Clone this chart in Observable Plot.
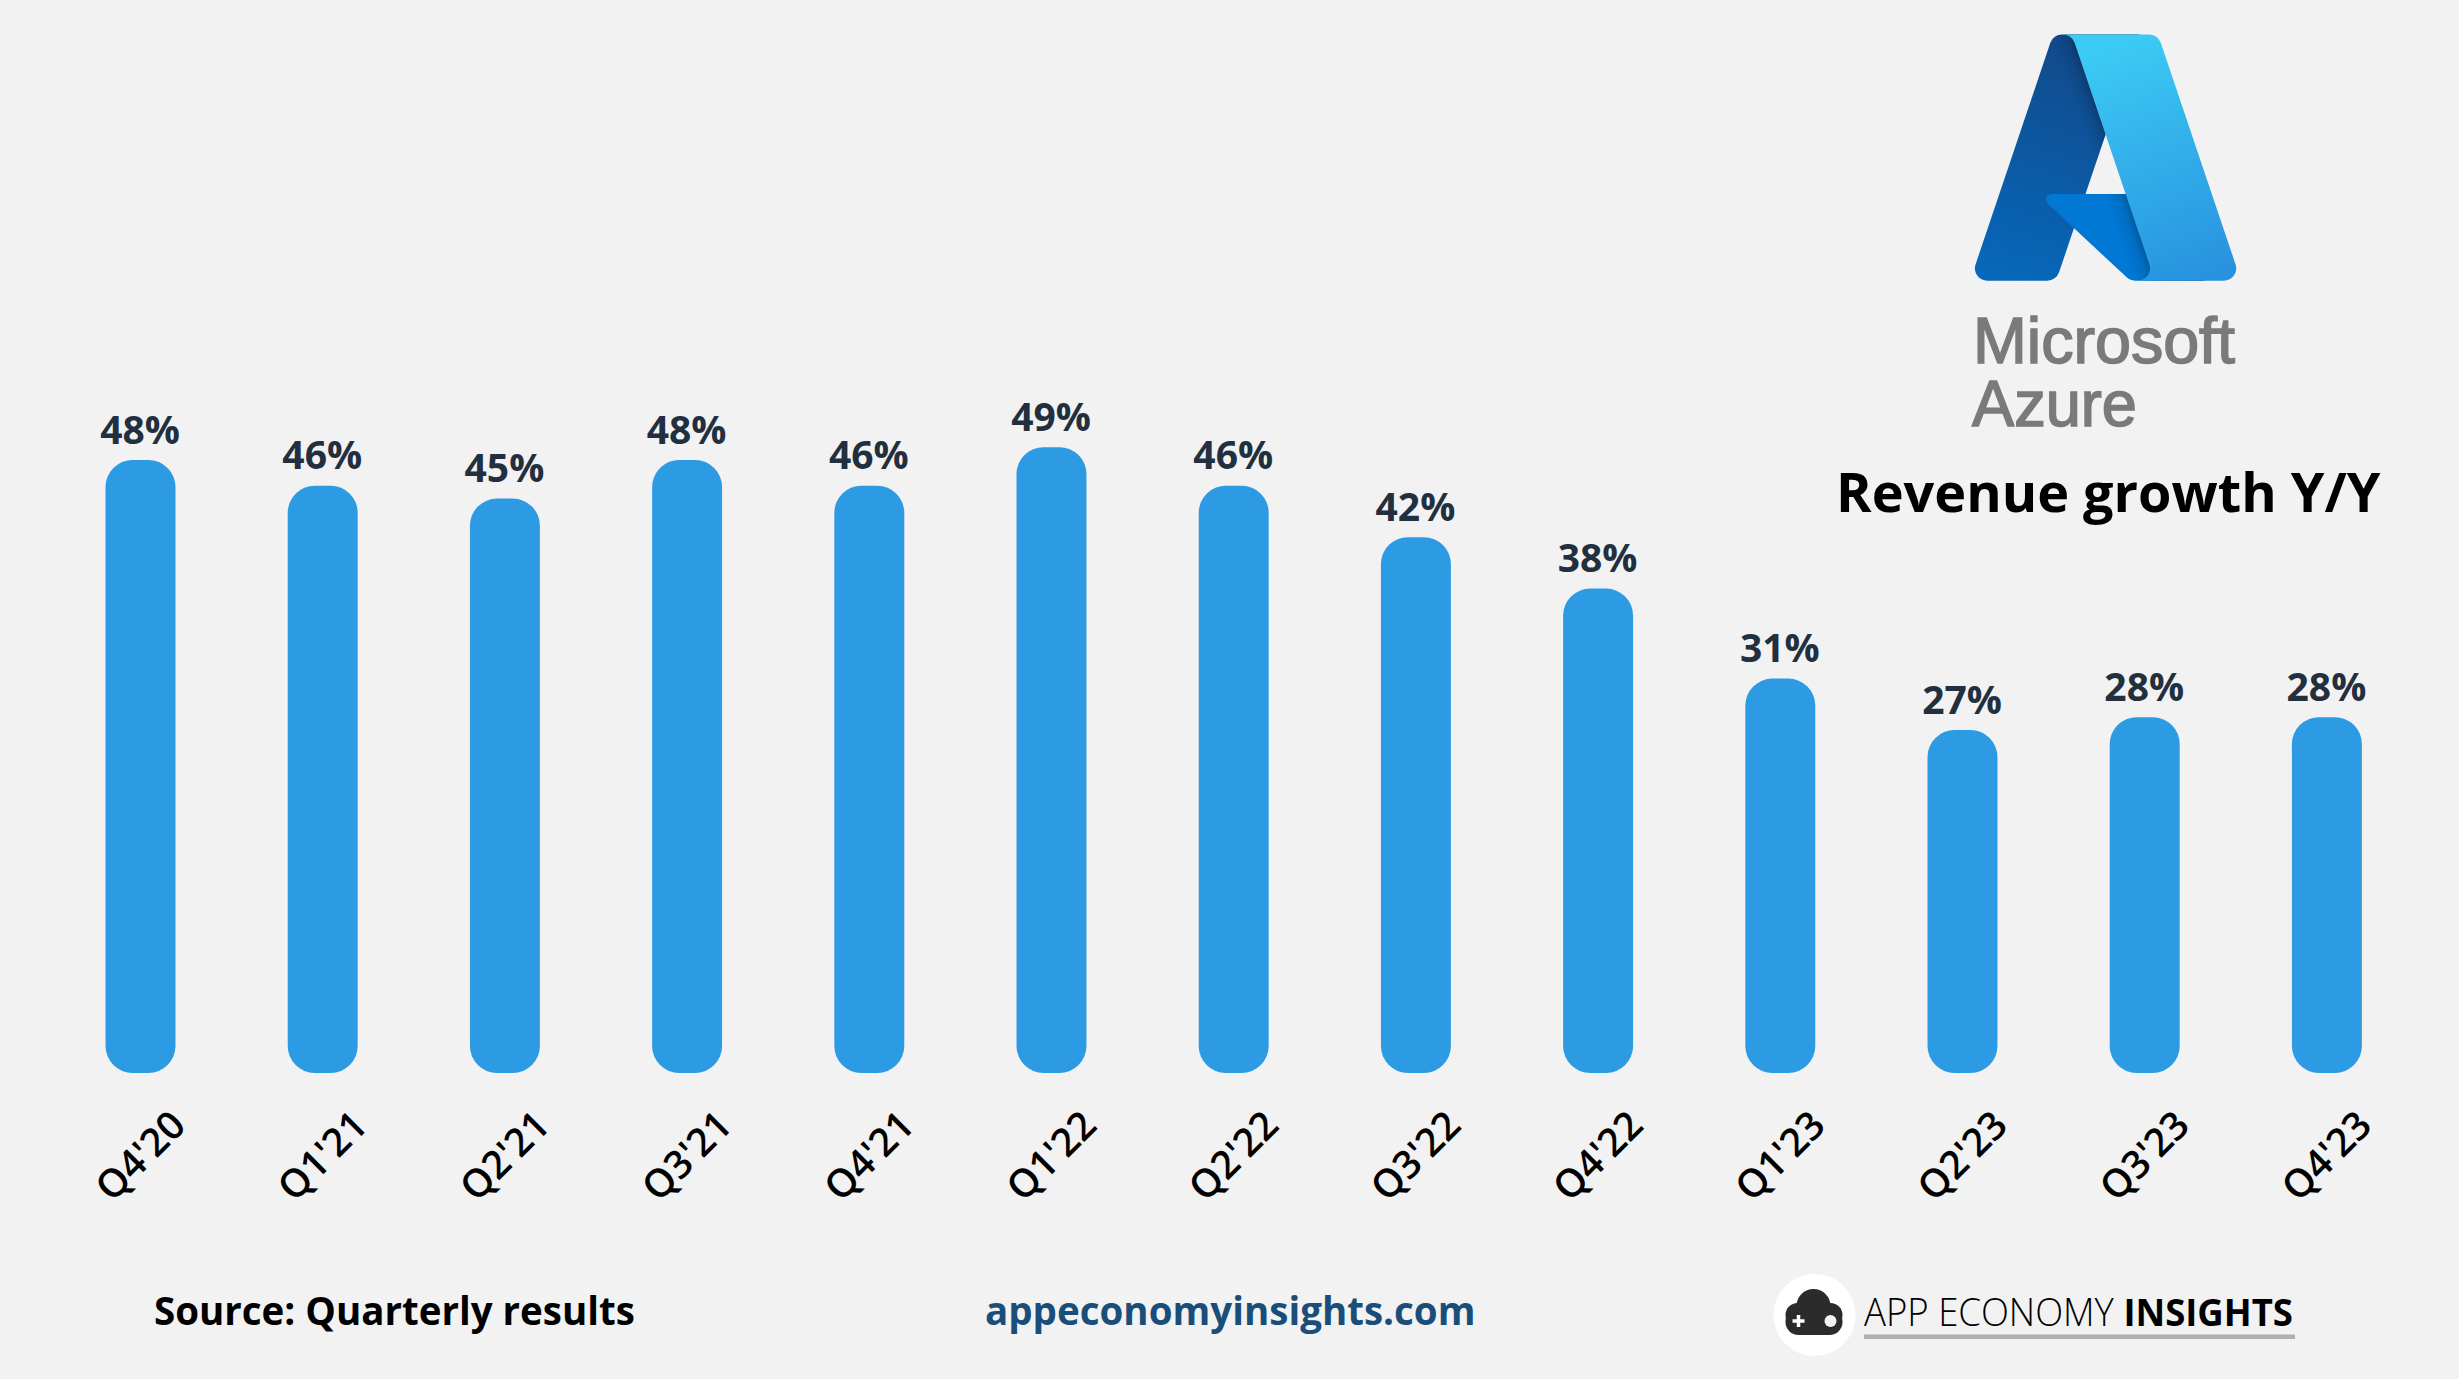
<!DOCTYPE html>
<html>
<head>
<meta charset="utf-8">
<script src="https://cdn.jsdelivr.net/npm/d3@7"></script>
<script src="https://cdn.jsdelivr.net/npm/@observablehq/plot@0.6"></script>
<style>
html,body{margin:0;padding:0;background:#f2f2f2;}
#page{position:relative;width:2459px;height:1379px;overflow:hidden;background:#f2f2f2;font-family:"Open Sans",sans-serif;}
#chart{position:absolute;left:0;top:0;}
#chart svg{background:transparent;display:block;}
#overlay{position:absolute;left:0;top:0;}
</style>
</head>
<body>
<div id="page">
  <div id="chart"></div>
  <svg id="overlay" width="2459" height="1379" viewBox="0 0 2459 1379" font-family="Open Sans, sans-serif">
    <defs>
      <linearGradient id="az1" x1="-1032.172" x2="-1059.213" y1="145.312" y2="65.426" gradientTransform="matrix(1 0 0 -1 1075 158)" gradientUnits="userSpaceOnUse"><stop offset="0" stop-color="#114a8b"/><stop offset="1" stop-color="#0669bc"/></linearGradient>
      <linearGradient id="az2" x1="-1023.725" x2="-1029.98" y1="108.083" y2="105.968" gradientTransform="matrix(1 0 0 -1 1075 158)" gradientUnits="userSpaceOnUse"><stop offset="0" stop-opacity=".3"/><stop offset=".071" stop-opacity=".2"/><stop offset=".321" stop-opacity=".1"/><stop offset=".623" stop-opacity=".05"/><stop offset="1" stop-opacity="0"/></linearGradient>
      <linearGradient id="az3" x1="-1027.165" x2="-997.482" y1="147.642" y2="68.561" gradientTransform="matrix(1 0 0 -1 1075 158)" gradientUnits="userSpaceOnUse"><stop offset="0" stop-color="#3ccbf4"/><stop offset="1" stop-color="#2892df"/></linearGradient>
    </defs>
    <g transform="translate(1963,15) scale(2.97,2.97)">
      <path fill="url(#az1)" d="M33.338 6.544h26.038l-27.03 80.087a4.152 4.152 0 0 1-3.933 2.824H8.149a4.145 4.145 0 0 1-3.928-5.47L29.404 9.368a4.152 4.152 0 0 1 3.934-2.825z"/>
      <path fill="#0078d4" d="M71.175 60.261h-41.29a1.911 1.911 0 0 0-1.305 3.309l26.532 24.764a4.171 4.171 0 0 0 2.846 1.121h23.38z"/>
      <path fill="url(#az2)" d="M33.338 6.544a4.118 4.118 0 0 0-3.943 2.879L4.252 83.917a4.14 4.14 0 0 0 3.908 5.538h20.787a4.443 4.443 0 0 0 3.41-2.9l5.014-14.777 17.91 16.705a4.237 4.237 0 0 0 2.666.972H81.24L71.024 60.261l-29.781.007L59.47 6.544z"/>
      <path fill="url(#az3)" d="M66.595 9.364a4.145 4.145 0 0 0-3.928-2.82H33.648a4.146 4.146 0 0 1 3.928 2.82l25.184 74.62a4.146 4.146 0 0 1-3.928 5.472h29.02a4.146 4.146 0 0 0 3.927-5.472z"/>
    </g>
    <text font-family="Liberation Sans, Arial, sans-serif" font-size="65" fill="#7a7a7a" stroke="#7a7a7a" stroke-width="1.6"><tspan x="1973" y="363" textLength="262" lengthAdjust="spacingAndGlyphs">Microsoft</tspan><tspan x="1972" y="426" textLength="165" lengthAdjust="spacingAndGlyphs">Azure</tspan></text>
    <text x="1836" y="511.5" font-size="54" font-weight="700" fill="#000">Revenue growth Y/Y</text>
    <text x="154" y="1325" font-size="38.5" font-weight="700" fill="#000">Source: Quarterly results</text>
    <text x="985" y="1325" font-size="38.5" font-weight="700" fill="#1a4e7a">appeconomyinsights.com</text>
    <g transform="translate(-1.5,-10)">
      <circle cx="1816" cy="1325" r="41" fill="#ffffff"/>
      <g fill="#2b2b2b">
        <rect x="1787" y="1318" width="57" height="27" rx="13"/>
        <circle cx="1815" cy="1316" r="17"/>
        <circle cx="1799" cy="1325" r="12"/>
        <circle cx="1832" cy="1325" r="12"/>
      </g>
      <path d="M1794 1331h12M1800 1325v12" stroke="#fff" stroke-width="3.5"/>
      <circle cx="1832" cy="1331" r="6" fill="#f2f2f2"/>
    </g>
    <text x="1864" y="1326" font-size="38" fill="#000" textLength="429" lengthAdjust="spacingAndGlyphs"><tspan font-weight="350">APP ECONOMY </tspan><tspan font-weight="700">INSIGHTS</tspan></text>
    <rect x="1864" y="1334.5" width="431" height="4.5" fill="#b0b0b0"/>
  </svg>
</div>
<script>
const quarters = ["Q4'20","Q1'21","Q2'21","Q3'21","Q4'21","Q1'22","Q2'22","Q3'22","Q4'22","Q1'23","Q2'23","Q3'23","Q4'23"];
const growth = [48,46,45,48,46,49,46,42,38,31,27,28,28];
const table = quarters.map((q,i)=>({q, v:growth[i]}));

const plot = Plot.plot({
  width: 2459,
  height: 1379,
  marginLeft: 0, marginRight: 0, marginTop: 0, marginBottom: 306,
  style: {background:"transparent", fontFamily:"Open Sans, sans-serif"},
  x: {domain: quarters, type:"band", paddingInner:0.616, paddingOuter:0.4145, range:[30,2437.4], round:false, label:null},
  y: {domain:[0.33,50], range:[1073,434.3], clamp:true, axis:null},
  marks: [
    Plot.barY(table,{x:"q", y:"v", fill:"#2d9be3", rx:27}),
    Plot.text(table,{x:"q", y:"v", text:d=>d.v+"%", dx:-1, dy:-17, lineAnchor:"bottom", textAnchor:"middle", fontSize:39, fontWeight:700, fill:"#222f3e"}),
    Plot.axisX({anchor:"bottom", tickSize:0, tickPadding:83, tickRotate:-45, textAnchor:"middle", lineAnchor:"middle", fontSize:39, fontWeight:650, fill:"#000", label:null})
  ]
});
document.getElementById("chart").appendChild(plot);
</script>
</body>
</html>
